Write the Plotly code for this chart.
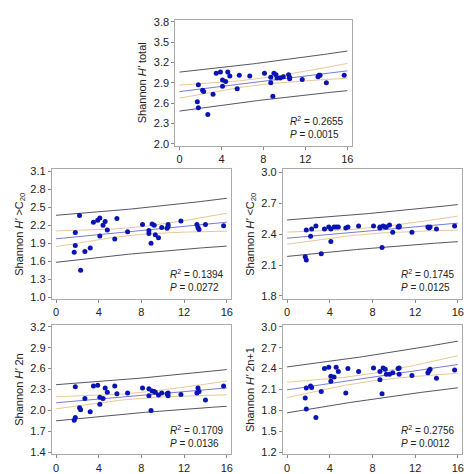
import numpy as np
import plotly.graph_objects as go

# SOC values (g 100 g-1), shared by all panels
soc = [1.7, 1.8, 1.8, 2.2, 2.3, 2.7, 3.2, 3.5, 3.9, 4.1, 4.1, 4.4, 4.6, 4.8, 5.5, 5.7, 6.7, 8.1,
       8.7, 8.7, 8.9, 9.0, 9.2, 9.3, 9.6, 9.9, 10.4, 10.5, 10.5, 11.7, 13.2, 13.3, 13.4, 14.0, 15.7]

h_total = [2.62, 2.53, 2.87, 2.79, 2.77, 2.43, 2.73, 3.04, 3.06, 2.94, 2.85, 2.92, 3.06, 3.00, 2.81, 3.01, 3.00, 3.04,
           2.98, 2.90, 2.70, 3.04, 3.02, 2.97, 2.97, 2.99, 3.02, 2.98, 2.96, 2.95, 2.99, 3.01, 3.01, 2.90, 3.01]
h_gt_c20 = [1.75, 1.86, 2.08, 2.36, 1.45, 1.76, 1.82, 2.25, 2.28, 2.32, 2.02, 2.20, 2.26, 2.12, 1.97, 2.31, 2.09, 2.21,
            2.11, 2.06, 1.90, 2.22, 2.20, 2.04, 1.99, 2.16, 2.15, 2.21, 2.18, 2.27, 2.21, 2.16, 2.13, 2.21, 2.19]
h_lt_c20 = [2.18, 2.15, 2.44, 2.38, 2.45, 2.48, 2.21, 2.45, 2.47, 2.45, 2.33, 2.47, 2.47, 2.47, 2.46, 2.47, 2.48, 2.48,
            2.47, 2.46, 2.27, 2.48, 2.47, 2.47, 2.49, 2.42, 2.47, 2.48, 2.47, 2.42, 2.47, 2.46, 2.47, 2.45, 2.48]
h_2n = [1.86, 1.90, 2.34, 2.04, 2.01, 2.17, 1.98, 2.35, 2.36, 2.19, 2.09, 2.17, 2.32, 2.26, 2.35, 2.24, 2.25, 2.32,
        2.31, 2.21, 2.00, 2.28, 2.27, 2.26, 2.22, 2.25, 2.24, 2.21, 2.25, 2.23, 2.25, 2.32, 2.27, 2.15, 2.35]
h_2n1 = [1.98, 1.82, 2.12, 2.15, 2.13, 1.70, 2.07, 2.40, 2.42, 2.22, 2.29, 2.28, 2.42, 2.36, 2.05, 2.40, 2.36, 2.41,
         2.36, 2.24, 2.04, 2.41, 2.39, 2.32, 2.32, 2.34, 2.40, 2.41, 2.32, 2.30, 2.34, 2.37, 2.39, 2.26, 2.38]

y_titles = ["Shannon <i>H'</i> total", "Shannon <i>H'</i> >C<sub>20</sub>", "Shannon <i>H'</i> <C<sub>20</sub>",
            "Shannon <i>H'</i> 2n", "Shannon <i>H'</i> 2n+1"]
r2_text = ["0.2655", "0.1394", "0.1745", "0.1709", "0.2756"]
p_text = ["0.0015", "0.0272", "0.0125", "0.0136", "0.0012"]
y_ranges = [(2.0, 3.8), (1.0, 3.1), (1.8, 3.0), (1.4, 3.2), (1.2, 3.0)]
series = [h_total, h_gt_c20, h_lt_c20, h_2n, h_2n1]

W = 474
# panel boxes in pixels: left, right, top, bottom
boxes = [(168, 345, 8, 136), (44, 224, 160, 292), (276, 456, 160, 292),
         (44, 224, 318, 450), (276, 456, 318, 450)]

fig = go.Figure()
xs = np.array(soc)
grid = np.linspace(0, 16, 60)
t = 2.03

for i, ys in enumerate(series):
    ax = "" if i == 0 else str(i + 1)
    xref, yref = "x" + ax, "y" + ax
    y = np.array(ys)
    b, a = np.polyfit(xs, y, 1)
    n = len(xs)
    fit = a + b * grid
    res = y - (a + b * xs)
    s = np.sqrt((res ** 2).sum() / (n - 2))
    sxx = ((xs - xs.mean()) ** 2).sum()
    ci = t * s * np.sqrt(1 / n + (grid - xs.mean()) ** 2 / sxx)
    pi = t * s * np.sqrt(1 + 1 / n + (grid - xs.mean()) ** 2 / sxx)
    for yy, col in [(fit + pi, "#555566"), (fit - pi, "#555566"),
                    (fit + ci, "#e8c898"), (fit - ci, "#e8c898"), (fit, "#7a7ad8")]:
        fig.add_trace(go.Scatter(x=grid, y=yy, mode="lines", line=dict(color=col, width=1),
                                 xaxis=xref, yaxis=yref, showlegend=False))
    fig.add_trace(go.Scatter(x=soc, y=ys, mode="markers", marker=dict(color="#0a14b4", size=5),
                             xaxis=xref, yaxis=yref, showlegend=False))

    l, r, tp, bt = boxes[i]
    lo, hi = y_ranges[i]
    axstyle = dict(showline=True, linecolor="#aaaaaa", mirror=True, showgrid=False, zeroline=False,
                   ticks="outside", ticklen=3, tickcolor="#888888", tickfont=dict(size=11, color="#222"))
    fig.layout["xaxis" + ax] = dict(domain=[l / W, r / W], range=[-0.4, 16.4], tickvals=[0, 4, 8, 12, 16],
                                    anchor=yref, **axstyle)
    fig.layout["yaxis" + ax] = dict(domain=[1 - bt / W, 1 - tp / W], range=[lo - 0.03, hi + 0.03],
                                    dtick=0.3, tick0=lo, tickformat=".1f", anchor=xref,
                                    title=dict(text=y_titles[i], font=dict(size=11, color="#222"), standoff=4),
                                    **axstyle)
    fig.add_annotation(x=0.97, y=0.03, xref=xref + " domain", yref=yref + " domain", showarrow=False,
                       xanchor="right", yanchor="bottom", align="left", font=dict(size=10, color="#222"),
                       text=f"<i>R</i><sup>2</sup> = {r2_text[i]}<br><i>P</i> = {p_text[i]}")

for xr in ["x4", "x5"]:
    fig.add_annotation(x=0.5, y=-0.17, xref=xr + " domain", yref="y4 domain", showarrow=False,
                       yanchor="top", font=dict(size=11, color="#222"),
                       text="SOC (g·100 g<sup>-1</sup>)")

fig.update_layout(width=W, height=W, margin=dict(l=0, r=0, t=0, b=0), plot_bgcolor="white",
                  paper_bgcolor="white", font=dict(family="Liberation Sans"))
fig.write_html("out.html")
